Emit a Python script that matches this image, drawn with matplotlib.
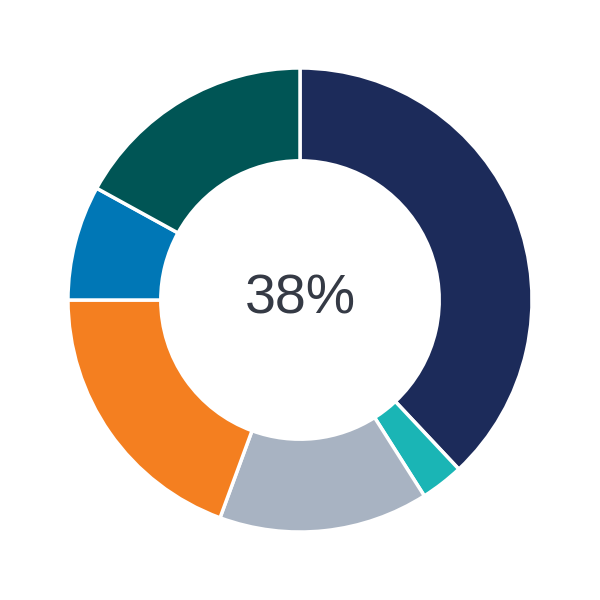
import matplotlib
matplotlib.use('Agg')
import matplotlib.pyplot as plt

segments = ['Navy', 'Teal', 'Gray', 'Orange', 'Blue', 'Dark teal']
shares = [38, 3, 14.6, 19.4, 8, 17]
colors = ['#1c2b5a', '#1ab5b5', '#a8b3c2', '#f47f20', '#0077b6', '#005555']
center_label = '38%'

fig = plt.figure(figsize=(6, 6), dpi=100)
ax = fig.add_axes([0, 0, 1, 1])
ax.pie(shares, colors=colors, startangle=90, counterclock=False,
       radius=1.0,
       wedgeprops=dict(width=0.40, edgecolor='white', linewidth=2.5))
ax.text(0, 0, center_label, ha='center', va='center', fontsize=40,
        color='#353a45', family=['Liberation Sans', 'DejaVu Sans'])
lim = 1.293
ax.set_xlim(-lim, lim)
ax.set_ylim(-lim, lim)
ax.set_aspect('equal')
ax.axis('off')
fig.savefig('out.png', dpi=100, facecolor='white')
